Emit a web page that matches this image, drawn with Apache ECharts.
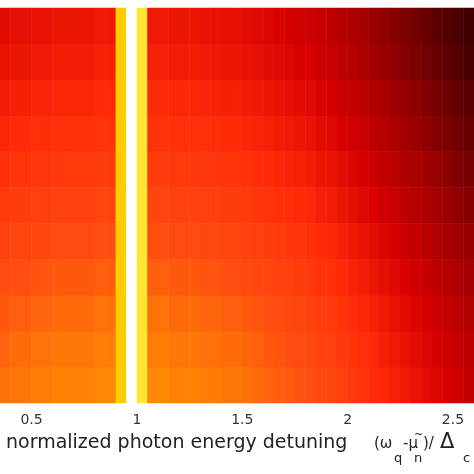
<!DOCTYPE html>
<html><head><meta charset="utf-8">
<script src="https://cdn.jsdelivr.net/npm/echarts@6/dist/echarts.min.js"></script>
<style>html,body{margin:0;padding:0;background:#fff}#c{width:474px;height:474px}</style>
</head><body><div id="c"></div>
<script>
// x column centres (normalized detuning), 0.05 wide
const xCats = [0.375,0.425,0.475,0.525,0.575,0.625,0.675,0.725,0.775,0.825,0.875,0.925,0.975,1.025,1.075,1.125,1.175,1.225,1.275,1.325,1.375,1.425,1.475,1.525,1.575,1.625,1.675,1.725,1.775,1.825,1.875,1.925,1.975,2.025,2.075,2.125,2.175,2.225,2.275,2.325,2.375,2.425,2.475,2.525,2.575];
// background intensity per column (top row level)
const colBase = [0.41,0.42,0.42,0.43,0.43,0.44,0.44,0.44,0.44,0.45,0.45,0.45,0.45,0.45,0.45,0.45,0.44,0.44,0.44,0.43,0.43,0.42,0.42,0.41,0.40,0.39,0.38,0.37,0.36,0.35,0.33,0.32,0.30,0.28,0.26,0.24,0.22,0.20,0.18,0.16,0.14,0.12,0.10,0.08,0.06];
// extra intensity per row, bottom -> top
const rowBoost = [0.27,0.25,0.23,0.20,0.17,0.14,0.11,0.08,0.05,0.02,0];
// bright resonance line level per column (null = background)
const lineLevel = [null,null,null,null,null,null,null,null,null,null,null,0.84,1.0,0.9,null,null,null,null,null,null,null,null,null,null,null,null,null,null,null,null,null,null,null,null,null,null,null,null,null,null,null,null,null,null,null];
const xTicks = [0.5,1,1.5,2,2.5];

const data = [];
for (let i = 0; i < xCats.length; i++) {
  for (let j = 0; j < rowBoost.length; j++) {
    const v = lineLevel[i] !== null ? lineLevel[i] : colBase[i] + rowBoost[j];
    data.push([i, j, v]);
  }
}
const chart = echarts.init(document.getElementById('c'));
chart.setOption({
  animation: false,
  grid: {left: 0, right: 0, top: 8, bottom: 71},
  xAxis: [
    {type: 'category', data: xCats, show: false},
    {type: 'value', min: 0.35, max: 2.6, position: 'bottom',
     axisLine: {show: false}, axisTick: {show: false}, splitLine: {show: false},
     axisLabel: {customValues: xTicks, color: '#333', fontSize: 14, fontFamily: 'DejaVu Sans', margin: 10}}
  ],
  yAxis: {type: 'category', data: rowBoost.map((_, k) => k), show: false},
  visualMap: {show: false, min: 0, max: 1, dimension: 2,
    inRange: {color: ['#200000','#600000','#a00000','#d80000','#ff2a08','#ff5010','#ff9a00','#ffe000','#ffffff']}},
  series: [{type: 'heatmap', xAxisIndex: 0, data: data, itemStyle: {borderWidth: 0}}],
  graphic: [
    {type: 'text', left: 6, top: 434, style: {text: 'normalized photon energy detuning', fontSize: 19, fontFamily: 'DejaVu Sans', fill: '#222'}},
    {type: 'text', left: 374, top: 437, style: {text: '(ω', fontSize: 15, fontFamily: 'DejaVu Sans', fill: '#222'}},
    {type: 'text', left: 394, top: 452, style: {text: 'q', fontSize: 13, fontFamily: 'DejaVu Sans', fill: '#222'}},
    {type: 'text', left: 403, top: 437, style: {text: '-μ', fontSize: 15, fontFamily: 'DejaVu Sans', fill: '#222'}},
    {type: 'text', left: 414, top: 430, style: {text: '~', fontSize: 11, fontFamily: 'DejaVu Sans', fill: '#222'}},
    {type: 'text', left: 414, top: 452, style: {text: 'n', fontSize: 13, fontFamily: 'DejaVu Sans', fill: '#222'}},
    {type: 'text', left: 423, top: 437, style: {text: ')/', fontSize: 15, fontFamily: 'DejaVu Sans', fill: '#222'}},
    {type: 'text', left: 440, top: 432, style: {text: 'Δ', fontSize: 21, fontFamily: 'DejaVu Sans', fill: '#222'}},
    {type: 'text', left: 463, top: 452, style: {text: 'c', fontSize: 13, fontFamily: 'DejaVu Sans', fill: '#222'}}
  ]
});
</script></body></html>
